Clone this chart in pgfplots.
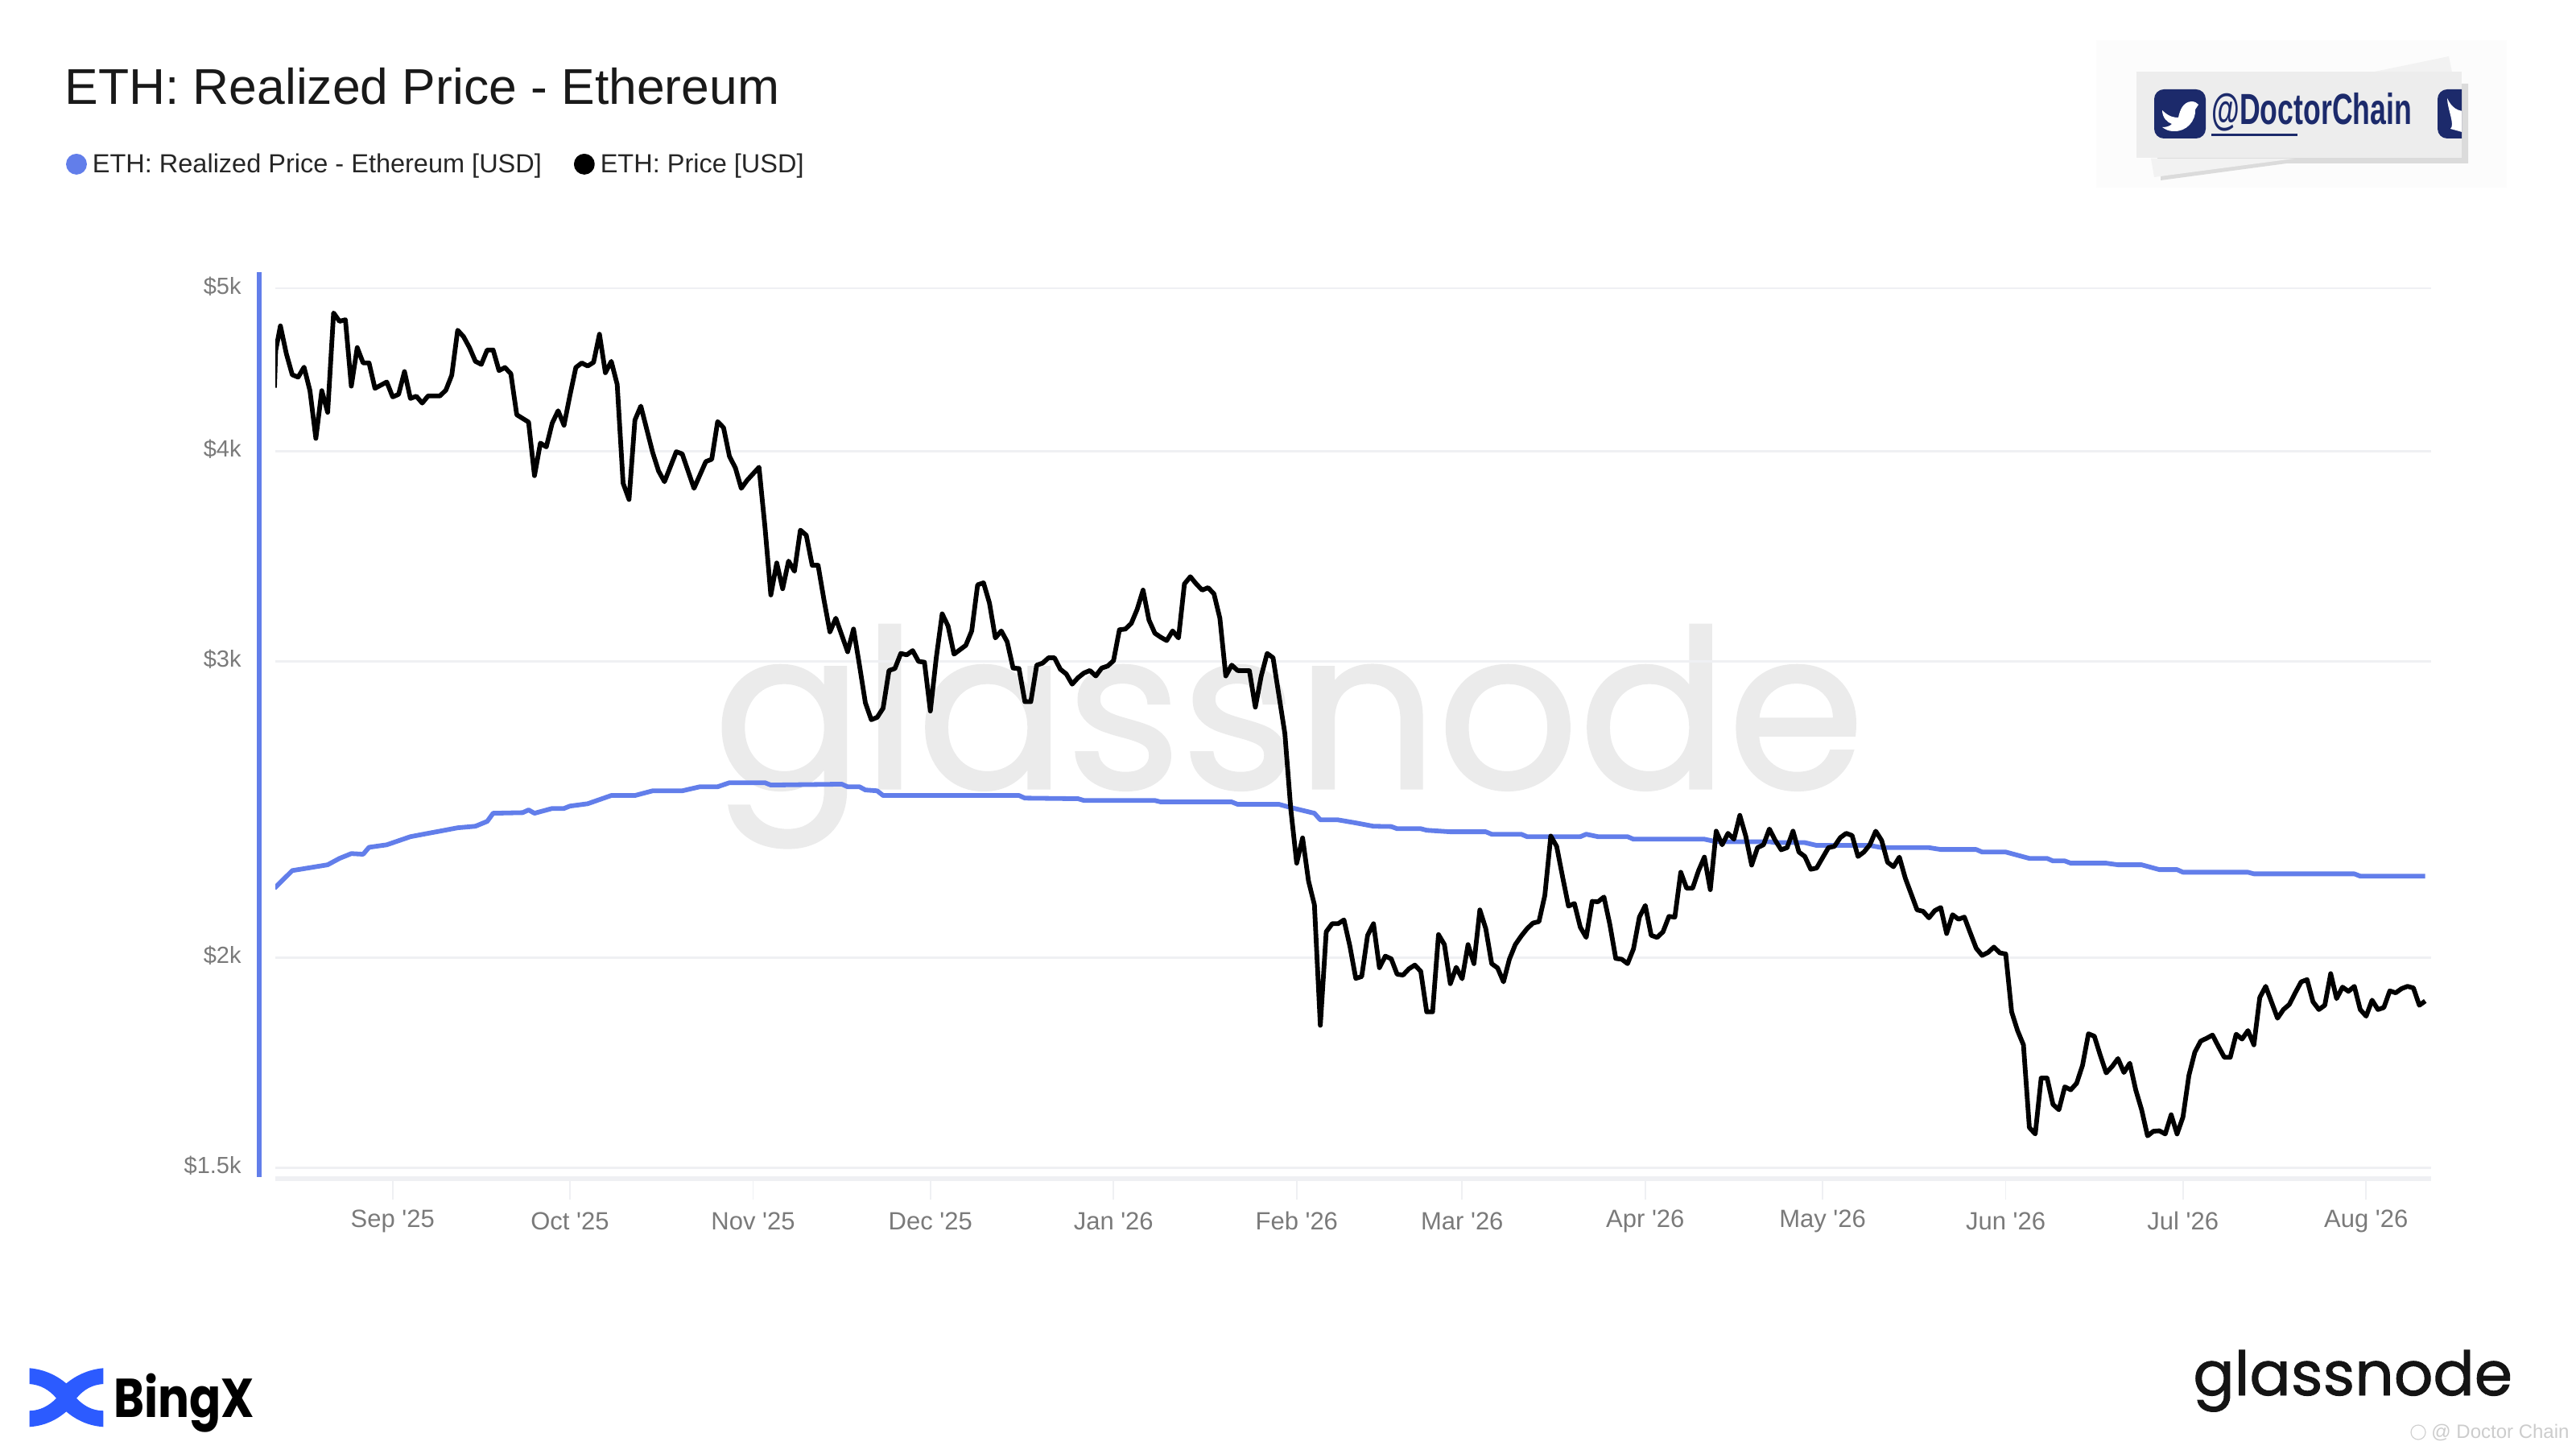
\documentclass[border=0pt]{standalone}
\usepackage{graphicx}
\usepackage{fontspec}
\setmainfont{Liberation Sans}
\newfontfamily\pop{Poppins}
\newfontfamily\popfat[FakeBold=1.2]{Poppins}
\usepackage{pgfplots}
\pgfplotsset{compat=1.18}
\definecolor{rblue}{HTML}{627EEA}
\definecolor{gridc}{HTML}{EFF0F3}
\definecolor{labc}{HTML}{7A7A7A}
\definecolor{navy}{HTML}{1C2A6B}
\definecolor{bxblue}{HTML}{2C5BFF}
\newcommand\q{\textquotesingle}
\begin{document}
\begin{tikzpicture}
\useasboundingbox (0,0) rectangle (1600pt,900pt);
\begin{scope}[x=0.5pt,y=-0.5pt,yshift=900pt]
  % watermark
  \node[anchor=base west,inner sep=0pt,text=black!8] at (886,979) {\popfat\fontsize{137}{137}\selectfont glassnode};
  % title
  \node[anchor=base west,inner sep=0pt,text=black!90] at (80,130) {\fontsize{31.2}{36}\selectfont ETH: Realized Price - Ethereum};
  % paper tag
  \fill[black!1] (2604,50) rectangle (3114,233);
  \fill[black!14] (2680,203) -- (3066,203) -- (3066,104) -- (3058,104) -- (3058,196) -- (2680,196) -- cycle;
  \fill[black!14] (2684,224) -- (2870,199) -- (2684,199) -- cycle;
  \fill[black!5] (2676,220) -- (2672,197) -- (2850,197) -- cycle;
  \fill[black!5] (2950,89) -- (3042,70) -- (3047,95) -- (2950,95) -- cycle;
  \fill[black!7] (2654,89) rectangle (3058,196);
  \fill[navy,rounded corners=6pt] (2676,111) rectangle (2740,172);
  \fill[white] (2686,137) .. controls (2695,146) and (2702,146) .. (2706,146)
     .. controls (2708,136) and (2712,127) .. (2722,126) .. controls (2727,126) and (2729,128) .. (2731,130)
     -- (2727,136) .. controls (2728,150) and (2716,164) .. (2700,163) .. controls (2694,163) and (2690,161) .. (2686,158)
     .. controls (2691,158) and (2695,157) .. (2698,154) .. controls (2692,152) and (2686,146) .. (2686,137) -- cycle;
  \begin{scope}
    \clip (3028,100) rectangle (3058,180);
    \fill[navy,rounded corners=6pt] (3028,111) rectangle (3092,172);
    \fill[white] (3040,122) .. controls (3046,135) and (3054,138) .. (3062,138) -- (3062,165) -- (3044,160) .. controls (3050,155) and (3040,135) .. (3040,122) -- cycle;
  \end{scope}
  \node[anchor=base west,inner sep=0pt,text=navy] at (2747,155) {\scalebox{0.66}[1]{\fontsize{27}{30}\selectfont\bfseries @DoctorChain}};
  \fill[navy] (2747,166.5) rectangle (2854,169.5);
  % BingX
  \fill[bxblue] (36.7,1699.3) .. controls (55,1701) and (70,1708) .. (82.3,1718.3)
     .. controls (95,1708) and (110,1701) .. (128.3,1699.3) -- (128.3,1719)
     .. controls (114,1720) and (104,1726) .. (95,1736.7)
     .. controls (104,1746) and (114,1752) .. (128.3,1752.3) -- (128.3,1772.3)
     .. controls (110,1771) and (95,1764) .. (82.3,1753.3)
     .. controls (70,1764) and (55,1771) .. (36.7,1772.3) -- (36.7,1752.3)
     .. controls (50,1752) and (61,1746) .. (70,1736.7)
     .. controls (61,1726) and (50,1720) .. (36.7,1719) -- cycle;
  \node[anchor=base west,inner sep=0pt] at (141,1760) {\scalebox{0.85}[1]{\pop\fontsize{34}{36}\selectfont\bfseries BingX}};
  % glassnode logo
  \node[anchor=base west,inner sep=0pt,text=black!92] at (2724,1733) {\popfat\fontsize{38}{42}\selectfont glassnode};
  % faint credit
  \draw[black!18,line width=0.6pt] (3004,1779) circle (9);
  \node[anchor=base west,inner sep=0pt,text=black!20] at (3020,1786) {\fontsize{12}{13}\selectfont @ Doctor Chain};
  % blue y axis rule
  \draw[rblue,line width=2.6pt] (322,338) -- (322,1462);
\end{scope}
\begin{axis}[
  at={(171pt,168pt)},anchor=south west,
  scale only axis,width=1339pt,height=563pt,
  ymode=log,log basis y=10,
  xmin=0.136,xmax=365,ymin=1478,ymax=5112,
  axis x line*=bottom,axis y line*=left,
  x axis line style={draw=gridc,line width=2.6pt,-},
  y axis line style={draw=none,-},
  xtick={20,50,81,111,142,173,201,232,262,293,323,354},
  xticklabels={Sep \q25,Oct \q25,Nov \q25,Dec \q25,Jan \q26,Feb \q26,Mar \q26,Apr \q26,May \q26,Jun \q26,Jul \q26,Aug \q26},
  ytick={1500,2000,3000,4000,5000},
  yticklabels={\$1.5k,\$2k,\$3k,\$4k,\$5k},
  yminorticks=false,xminorticks=false,
  ymajorgrids,
  grid style={draw=gridc,line width=1.25pt},
  x tick style={draw=gridc,line width=0.9pt},
  y tick style={draw=none},
  major tick length=13pt,tick align=outside,
  xticklabel style={font=\fontsize{15.5}{18}\selectfont,text=labc,inner sep=0pt,anchor=center,yshift=-13.5pt},
  yticklabel style={font=\fontsize{14.5}{18}\selectfont,text=labc,inner sep=0pt,anchor=east,xshift=-8pt,yshift=1.2pt},
  legend columns=2,
  legend cell align=left,
  legend style={at={(-0.0972,1.119)},anchor=west,draw=none,fill=none,inner sep=0pt,
    font=\fontsize{16.25}{18}\selectfont,text=black!85,
    /tikz/every even column/.append style={column sep=18pt},
    /tikz/every odd column/.append style={column sep=1.5pt}},
  legend image code/.code={\fill[#1] (0pt,0pt) circle (5pt);},
  line join=round,
]
\addplot[color=rblue,line width=2.9pt,no marks] coordinates {
(0,2199)(3,2253)(4,2256)(9,2271)(11,2291)(13,2306)(15,2304)(16,2326)(19,2334)(23,2360)(26,2371)(28,2378)(31,2389)(34,2394)(36,2410)(37,2437)(42,2439)(43,2448)(44,2437)(47,2453)(49,2453)(50,2461)(53,2469)(57,2497)(61,2497)(64,2513)(69,2513)(72,2527)(75,2527)(77,2541)(83,2541)(84,2533)(96,2536)(97,2527)(99,2527)(100,2516)(102,2513)(103,2497)(126,2497)(127,2488)(136,2486)(137,2480)(149,2480)(150,2475)(162,2475)(163,2467)(170,2467)(172,2456)(176,2437)(177,2415)(180,2415)(183,2405)(186,2394)(189,2393)(190,2386)(194,2386)(195,2381)(199,2376)(205,2376)(206,2368)(211,2368)(212,2360)(221,2360)(222,2368)(224,2360)(229,2360)(230,2352)(242,2352)(244,2344)(253,2344)(254,2341)(259,2341)(261,2332)(270,2332)(272,2325)(280,2325)(282,2319)(288,2319)(289,2311)(293,2311)(297,2291)(300,2291)(301,2283)(303,2283)(304,2276)(310,2276)(312,2271)(316,2271)(319,2256)(322,2256)(323,2248)(334,2248)(335,2243)(352,2243)(353,2236)(364,2236)
};
\addlegendentry{ETH: Realized Price - Ethereum [USD]}
\addplot[color=black,line width=2.9pt,no marks] coordinates {
(0,4364)(0.2,4591)(1,4749)(2,4572)(3,4442)(4,4427)(5,4488)(6,4346)(7,4071)(8,4346)(9,4219)(10,4834)(11,4779)(12,4789)(13,4373)(14,4610)(15,4514)(16,4514)(17,4360)(19,4398)(20,4309)(21,4324)(22,4461)(23,4300)(24,4313)(25,4273)(26,4315)(28,4315)(29,4349)(30,4439)(31,4721)(32,4679)(33,4610)(34,4524)(35,4505)(36,4595)(37,4595)(38,4467)(39,4486)(40,4448)(41,4205)(42,4184)(43,4163)(44,3869)(45,4045)(46,4024)(47,4157)(48,4228)(49,4145)(50,4318)(51,4486)(52,4514)(53,4495)(54,4518)(55,4695)(56,4454)(57,4524)(58,4383)(59,3829)(60,3745)(61,4175)(62,4255)(64,3994)(65,3894)(66,3837)(68,3998)(69,3986)(71,3802)(73,3944)(74,3957)(75,4166)(76,4131)(77,3973)(78,3911)(79,3802)(80,3845)(82,3914)(83,3609)(84,3286)(85,3433)(86,3314)(87,3442)(88,3394)(89,3591)(90,3566)
(91,3422)(92,3422)(93,3263)(94,3124)(95,3183)(97,3040)(98,3136)(99,2985)(100,2835)(101,2770)(102,2779)(103,2814)(104,2963)(105,2971)(106,3033)(107,3027)(108,3045)(109,3000)(110,2997)(111,2803)(112,3015)(113,3202)(114,3149)(115,3030)(117,3067)(118,3128)(119,3332)(120,3341)(121,3250)(122,3098)(123,3128)(124,3082)(125,2973)(126,2971)(127,2839)(128,2839)(129,2985)(130,2993)(131,3015)(132,3015)(133,2968)(134,2949)(135,2908)(136,2934)(137,2953)(138,2963)(139,2941)(140,2973)(141,2981)(142,3003)(143,3133)(144,3136)(145,3160)(146,3222)(147,3308)(148,3175)(149,3118)(150,3101)(151,3087)(152,3128)(153,3098)(154,3336)(155,3369)(156,3336)(157,3308)(158,3319)(159,3291)(160,3183)(161,2941)(162,2985)(163,2963)(165,2962)(166,2818)(167,2941)(168,3033)(169,3015)(171,2718)(172,2451)(173,2276)(174,2356)(175,2221)(176,2150)(177,1823)(178,2072)(179,2095)(180,2095)(181,2106)(182,2032)(183,1944)(184,1949)(185,2062)(186,2095)(187,1973)(188,2004)(189,1997)(190,1955)(191,1953)(192,1970)(193,1980)(194,1963)(195,1857)(196,1857)
(197,2064)(198,2036)(199,1930)(200,1974)(201,1943)(202,2036)(203,1984)(204,2135)(205,2081)(206,1984)(207,1972)(208,1935)(209,1996)(210,2036)(211,2060)(212,2081)(213,2097)(214,2101)(215,2178)(216,2362)(217,2329)(218,2234)(219,2146)(220,2154)(221,2085)(222,2056)(223,2160)(224,2159)(225,2173)(226,2093)(227,1998)(228,1996)(229,1984)(230,2024)(231,2114)(232,2148)(233,2062)(234,2056)(235,2072)(236,2116)(237,2114)(238,2248)(239,2199)(240,2199)(241,2252)(242,2295)(243,2195)(244,2378)(245,2334)(246,2371)(247,2352)(248,2430)(249,2362)(250,2270)(251,2325)(252,2334)(253,2385)(254,2348)(255,2318)(256,2325)(257,2378)(258,2311)(259,2297)(260,2257)(261,2261)(262,2293)(263,2325)(264,2329)(265,2357)(266,2371)(267,2364)(268,2297)(269,2311)(270,2334)(271,2378)(272,2348)(273,2279)(274,2265)(275,2295)(276,2230)(277,2182)(278,2135)(279,2131)(280,2112)(281,2133)
(282,2142)(283,2067)(284,2121)(285,2108)(286,2114)(287,2069)(288,2026)(289,2006)(290,2014)(291,2029)(292,2013)(293,2010)(294,1857)(295,1810)(296,1775)(297,1585)(298,1571)(299,1696)(300,1696)(301,1636)(302,1624)(303,1676)(304,1669)(305,1684)(306,1726)(307,1802)(308,1796)(309,1750)(310,1708)(311,1723)(312,1742)(313,1709)(314,1731)(315,1669)(316,1624)(317,1567)(318,1577)(319,1578)(320,1571)(321,1613)(322,1571)(323,1608)(324,1702)(325,1757)(326,1784)(327,1791)(328,1799)(329,1771)(330,1745)(331,1745)(332,1801)(333,1789)(334,1810)(335,1775)(336,1894)(337,1923)(339,1841)(340,1863)(341,1876)(342,1906)(343,1935)(344,1941)(345,1883)(346,1863)(347,1874)(348,1957)(349,1891)(350,1921)(351,1910)(352,1923)(353,1863)(354,1846)(355,1887)(356,1863)(357,1868)(358,1911)(359,1906)(360,1917)(361,1923)(362,1919)(363,1874)(364,1885)
};
\addlegendentry{ETH: Price [USD]}
\end{axis}
\end{tikzpicture}
\end{document}
